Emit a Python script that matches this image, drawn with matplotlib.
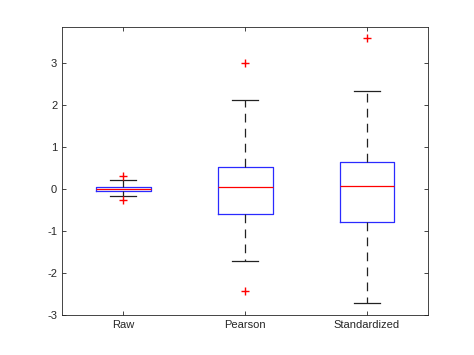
import matplotlib
matplotlib.use("Agg")
import matplotlib.pyplot as plt

categories = ["Raw", "Pearson", "Standardized"]
q1 = [-0.05, -0.60, -0.78]
med = [0.00, 0.06, 0.08]
q3 = [0.05, 0.52, 0.64]
whislo = [-0.17, -1.72, -2.71]
whishi = [0.22, 2.12, 2.34]
fliers = [[0.32, -0.25], [3.02, -2.44], [3.60]]

plt.rcParams['font.family'] = ['Liberation Sans', 'DejaVu Sans']
plt.rcParams['axes.unicode_minus'] = False
fig = plt.figure(figsize=(4.74, 3.55), dpi=100)
ax = fig.add_axes([0.131, 0.113, 0.772, 0.811])

stats = []
for i, c in enumerate(categories):
    stats.append(dict(label=c, q1=q1[i], med=med[i], q3=q3[i],
                      whislo=whislo[i], whishi=whishi[i], fliers=fliers[i]))

ax.bxp(stats, positions=[1, 2, 3], widths=0.45,
       boxprops=dict(color='#2a2aff', linewidth=0.9),
       medianprops=dict(color='#ff0000', linewidth=0.9),
       whiskerprops=dict(color='#222222', linestyle=(0, (7, 5)), linewidth=0.9),
       capprops=dict(color='#222222', linewidth=0.9),
       capwidths=0.22,
       flierprops=dict(marker='+', markeredgecolor='#ff0000', markersize=6, linestyle='none', markeredgewidth=1.0))

ax.set_xlim(0.5, 3.5)
ax.set_ylim(-3, 3.87)
ax.set_yticks([-3, -2, -1, 0, 1, 2, 3])
ax.tick_params(direction='in', top=True, right=True, labelsize=8, colors='#262626', length=3, width=0.6)
for s in ax.spines.values():
    s.set_color('#262626')
    s.set_linewidth(0.6)

fig.savefig("out.png", dpi=100)
